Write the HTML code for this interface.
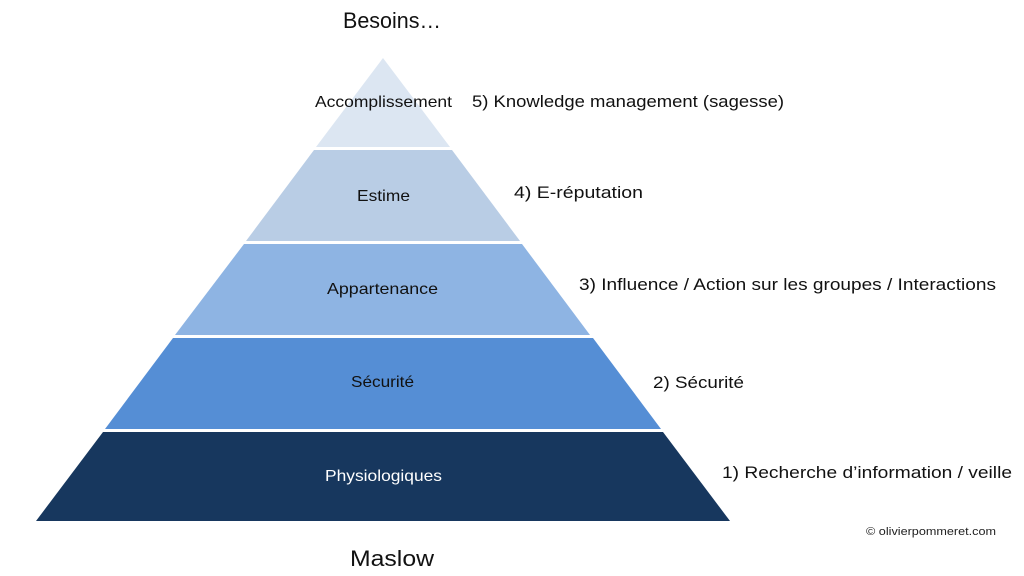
<!DOCTYPE html>
<html><head><meta charset="utf-8"><style>
html,body{margin:0;padding:0;background:#fff;width:1024px;height:576px;overflow:hidden}
svg{display:block}
text{font-family:"Liberation Sans",sans-serif}
</style></head><body>
<svg width="1024" height="576" viewBox="0 0 1024 576">
<polygon points="383,58 450,147 316,147" fill="#dce6f2"/>
<polygon points="314,150 452,150 520,241 246,241" fill="#b9cde5"/>
<polygon points="244,244 522,244 590,335 175,335" fill="#8eb4e3"/>
<polygon points="173,338 593,338 661,429 105,429" fill="#558ed5"/>
<polygon points="103,432 663,432 730,521 36,521" fill="#17375e"/>
<g font-size="16" fill="#111" lengthAdjust="spacingAndGlyphs">
<text x="315" y="107" textLength="137" lengthAdjust="spacingAndGlyphs">Accomplissement</text>
<text x="357" y="201" textLength="53" lengthAdjust="spacingAndGlyphs">Estime</text>
<text x="327" y="294" textLength="111" lengthAdjust="spacingAndGlyphs">Appartenance</text>
<text x="351" y="387" textLength="63" lengthAdjust="spacingAndGlyphs">Sécurité</text>
<text x="325" y="481" fill="#fff" textLength="117" lengthAdjust="spacingAndGlyphs">Physiologiques</text>
</g>
<g font-size="17" fill="#111">
<text x="472" y="107" textLength="312" lengthAdjust="spacingAndGlyphs">5) Knowledge management (sagesse)</text>
<text x="514" y="198" textLength="129" lengthAdjust="spacingAndGlyphs">4) E-réputation</text>
<text x="579" y="290" textLength="417" lengthAdjust="spacingAndGlyphs">3) Influence / Action sur les groupes / Interactions</text>
<text x="653" y="388" textLength="91" lengthAdjust="spacingAndGlyphs">2) Sécurité</text>
<text x="722" y="478" textLength="290" lengthAdjust="spacingAndGlyphs">1) Recherche d’information / veille</text>
</g>
<text x="343" y="28" font-size="22" fill="#111" textLength="98" lengthAdjust="spacingAndGlyphs">Besoins…</text>
<text x="350" y="566" font-size="22" fill="#111" textLength="84" lengthAdjust="spacingAndGlyphs">Maslow</text>
<text x="866" y="535" font-size="11" fill="#222" textLength="130" lengthAdjust="spacingAndGlyphs">© olivierpommeret.com</text>
</svg>
</body></html>
